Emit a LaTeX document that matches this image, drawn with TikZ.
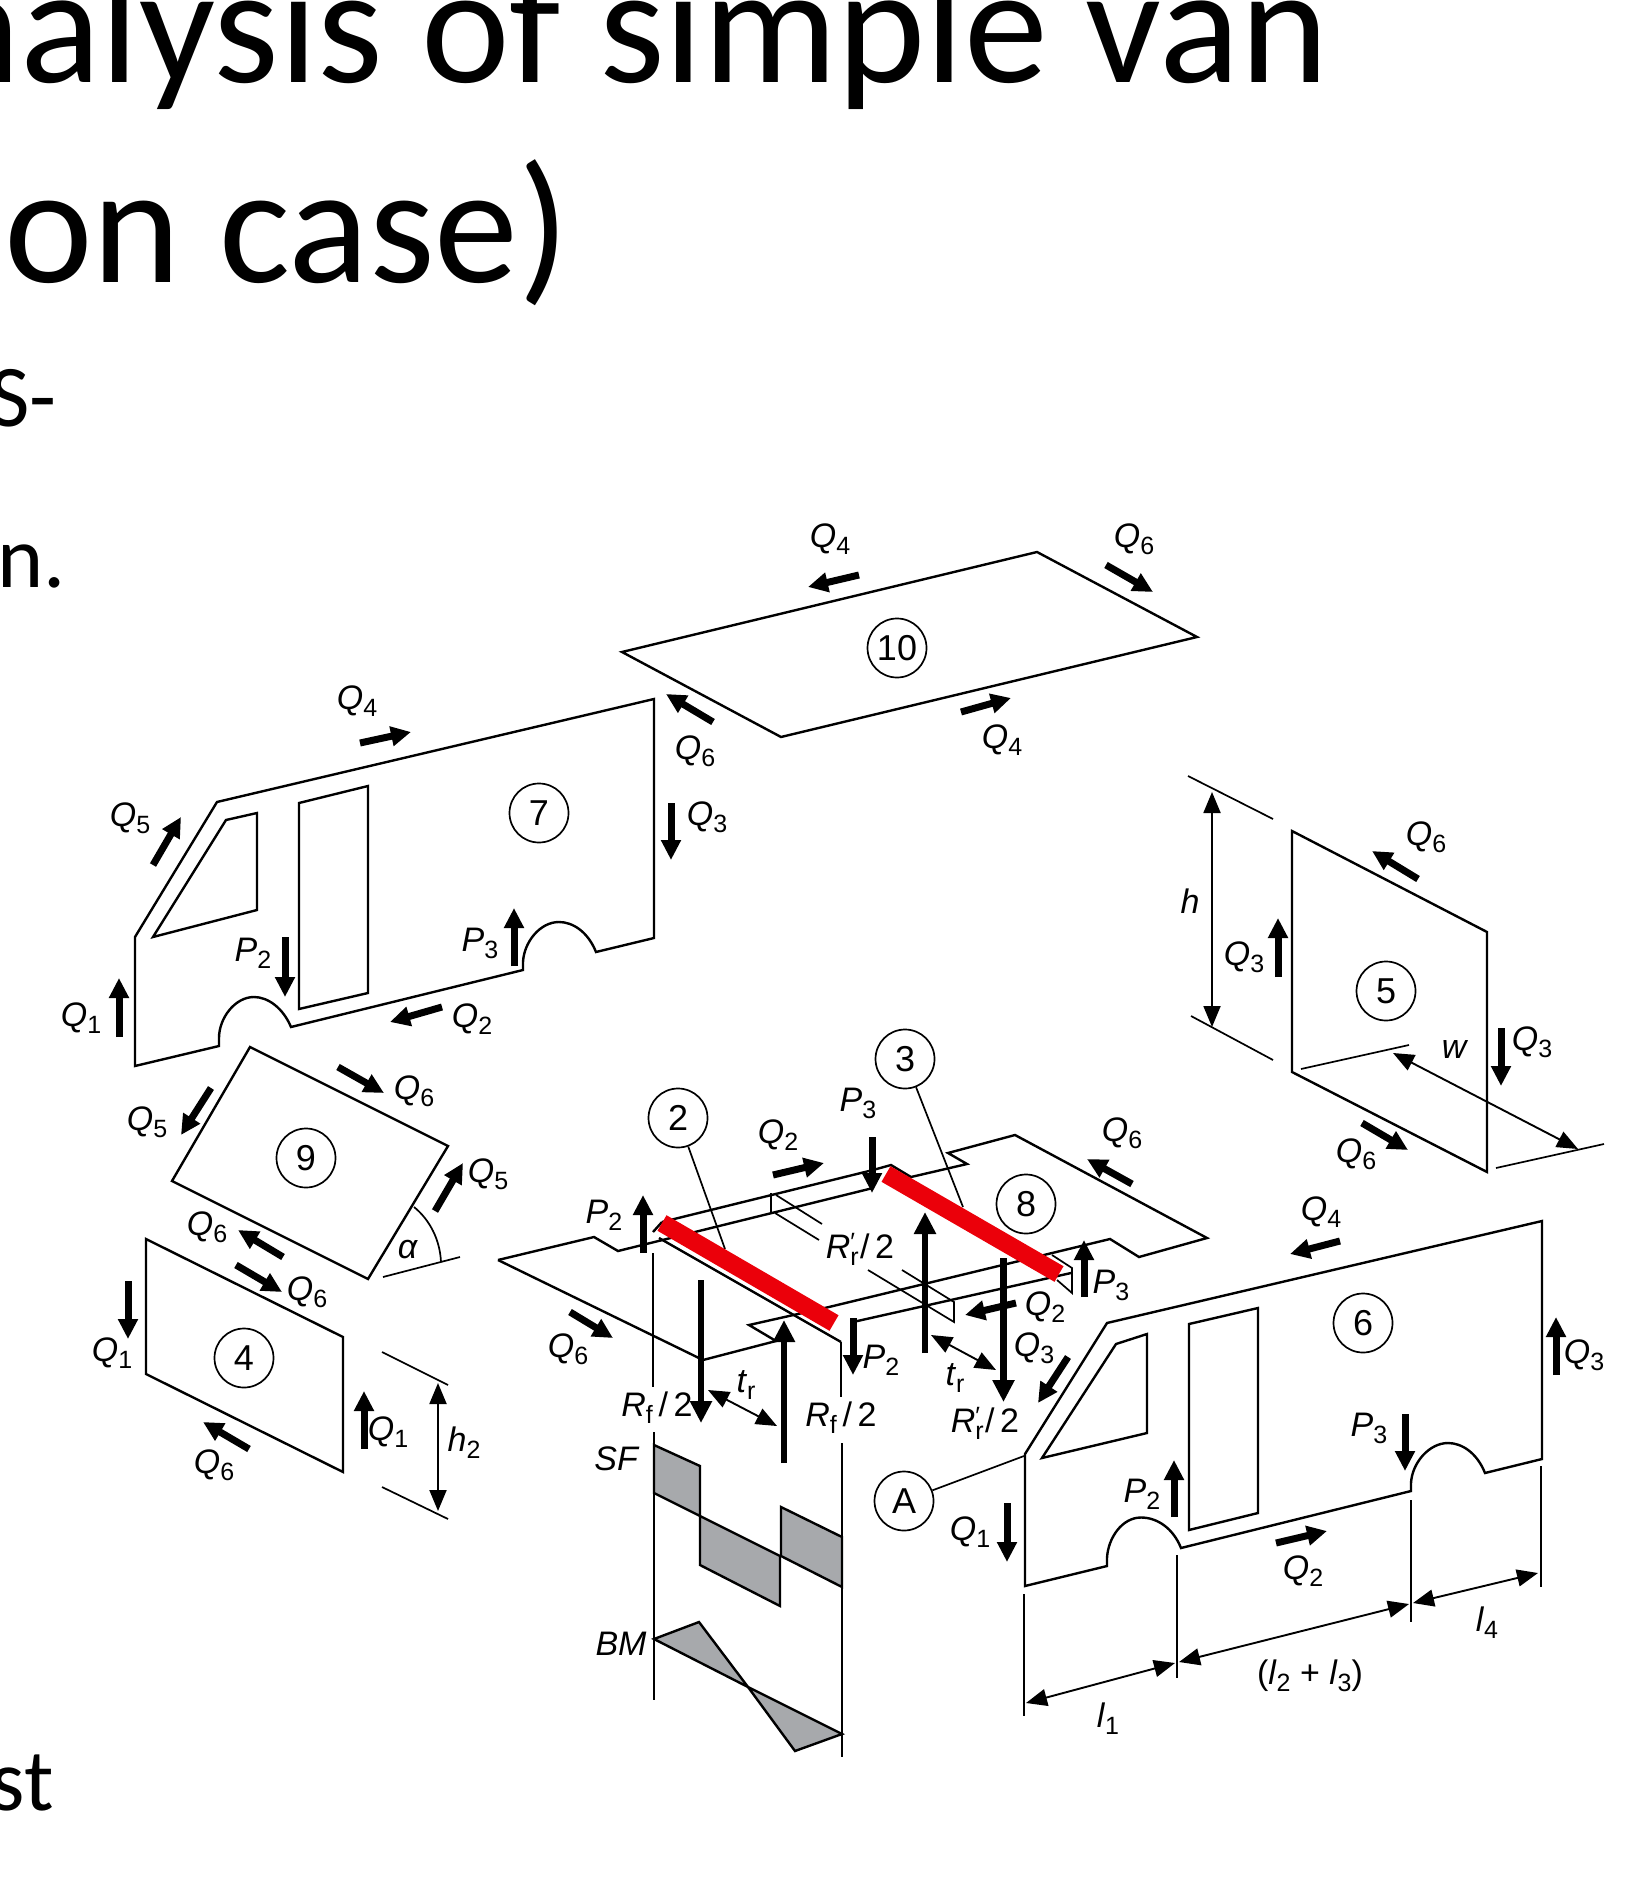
\documentclass[tikz,border=0pt]{standalone}
\usepackage{fontspec}
\setmainfont{Liberation Sans}
\newfontfamily\titlefont{Carlito}
\usetikzlibrary{arrows.meta}
\newcommand\subf[1]{{\fontsize{12.5}{13}\selectfont #1}}
\newcommand\QS[2]{\textit{#1}\raisebox{-3.5pt}{\subf{#2}}}
\newcommand\RF{\textit{R}\raisebox{-3.5pt}{\subf{f}}\,/\,2}
\newcommand\RP{\textit{R}\makebox[0pt][l]{\raisebox{-3.5pt}{\subf{r}}}\raisebox{4pt}{\subf{′}}\hspace{2.5pt}/\,2}
\tikzset{
  panel/.style={draw=black,line width=1.2pt,line join=miter},
  fine/.style={draw=black,line width=0.85pt},
  fa/.style={draw=black,line width=3.5pt,-{Triangle[length=10pt,width=9.5pt]}},
  fab/.style={draw=black,line width=3.4pt,-{Triangle[length=11pt,width=10.5pt]}},
  dimen/.style={draw=black,line width=0.95pt,{Triangle[length=10.5pt,width=8.5pt]}-{Triangle[length=10.5pt,width=8.5pt]}},
  lab/.style={inner sep=0pt,font=\fontsize{17}{20}\selectfont},
  num/.style={draw=black,circle,line width=0.85pt,minimum size=29.5pt,inner sep=0pt,font=\fontsize{18}{20}\selectfont},
  big/.style={inner sep=0pt,font=\titlefont\fontsize{84}{90}\selectfont},
  body/.style={inner sep=0pt,font=\titlefont\fontsize{44}{50}\selectfont,anchor=base east},
  redbar/.style={draw={rgb,255:red,235;green,0;blue,10},line width=9pt},
  shade/.style={fill={rgb,255:red,167;green,169;blue,172},draw=black,line width=1.2pt}
}
\begin{document}
\begin{tikzpicture}[x=0.5pt,y=-0.5pt]
\path[use as bounding box,fill=white] (0,0) rectangle (1625,1877);
\clip (0,0) rectangle (1625,1877);
% heading fragments
\node[big,anchor=base east] (t1) at (1329,83) {nalysis of simple van};
\node[big,anchor=base west] (t2) at (4,283) {on case)};
\node[body] (t3) at (57,427) {S-};
\node[body] (t4) at (66,587) {n.};
\node[body] (t5) at (54,1810) {st};

% panel 10
\draw[panel] (622,652) -- (1037,552) -- (1197,637) -- (781,737) -- cycle;
\node[num] (n10) at (897,648) {10};
\draw[fa] (859,575) -- (808,587);
\draw[fa] (1106,565) -- (1153,592);
\draw[fa] (713,722) -- (666,694);
\draw[fa] (961,712) -- (1011,698);
\node[lab] (a1) at (830,539) {\QS{Q}{4}};
\node[lab] (a2) at (1134,539) {\QS{Q}{6}};
\node[lab] (a3) at (695,751) {\QS{Q}{6}};
\node[lab] (a4) at (1002,740) {\QS{Q}{4}};

% panel 7
\draw[panel] (135,1066) -- (135,937) -- (217,802) -- (654,699) -- (654,938) -- (596,952)
  .. controls (588,932) and (573,922) .. (559,922) .. controls (540,922) and (524,942) .. (523,962) -- (523,970)
  -- (291,1027) .. controls (283,1008) and (268,997) .. (254,997) .. controls (235,997) and (219,1018) .. (219,1038) -- (219,1046) -- cycle;
\draw[panel] (153,937) -- (226,820) -- (257,813) -- (257,910) -- cycle;
\draw[panel] (299,803) -- (368,786) -- (368,993) -- (299,1009) -- cycle;
\node[num] (n7) at (539,813) {7};
\draw[fa] (360,743) -- (411,732);
\draw[fa] (153,865) -- (181,817);
\draw[fa] (671,803) -- (671,860);
\draw[fa] (119,1037) -- (119,978);
\draw[fa] (285,937) -- (285,997);
\draw[fa] (514,966) -- (514,908);
\draw[fa] (442,1007) -- (390,1022);
\node[lab] (b1) at (357,701) {\QS{Q}{4}};
\node[lab] (b2) at (130,818) {\QS{Q}{5}};
\node[lab] (b3) at (707,817) {\QS{Q}{3}};
\node[lab] (b4) at (81,1018) {\QS{Q}{1}};
\node[lab] (b5) at (253,953) {\QS{P}{2}};
\node[lab] (b6) at (480,943) {\QS{P}{3}};
\node[lab] (b7) at (472,1019) {\QS{Q}{2}};

% panel 9
\draw[panel] (250,1047) -- (448,1146) -- (368,1279) -- (172,1181) -- cycle;
\node[num] (n9) at (306,1158) {9};
\draw[fa] (338,1067) -- (384,1093);
\draw[fa] (211,1088) -- (181,1135);
\draw[fa] (435,1211) -- (463,1163);
\draw[fa] (283,1257) -- (238,1230);
\draw[fa] (236,1265) -- (282,1292);
\draw[fine] (414,1207) .. controls (430,1220) and (440,1240) .. (441,1262);
\draw[fine] (383,1277) -- (460,1257);
\node[lab] (c1) at (414,1091) {\QS{Q}{6}};
\node[lab] (c2) at (147,1122) {\QS{Q}{5}};
\node[lab] (c3) at (488,1174) {\QS{Q}{5}};
\node[lab] (c4) at (408,1250) {\textit{α}};
\node[lab] (c5) at (207,1227) {\QS{Q}{6}};
\node[lab] (c6) at (307,1292) {\QS{Q}{6}};

% panel 4
\draw[panel] (146,1239) -- (343,1337) -- (343,1472) -- (146,1374) -- cycle;
\node[num] (n4) at (244,1358) {4};
\draw[fa] (128,1281) -- (128,1339);
\draw[fa] (364,1449) -- (364,1391);
\draw[fa] (249,1449) -- (203,1422);
\draw[fine] (382,1352) -- (448,1385);
\draw[fine] (382,1487) -- (448,1519);
\draw[dimen] (438,1383) -- (438,1511);
\node[lab] (d1) at (112,1353) {\QS{Q}{1}};
\node[lab] (d2) at (388,1432) {\QS{Q}{1}};
\node[lab] (d3) at (214,1465) {\QS{Q}{6}};
\node[lab] (d4) at (464,1443) {\QS{\textit{h}}{2}};

% panel 5
\draw[panel] (1292,831) -- (1487,932) -- (1487,1172) -- (1292,1072) -- cycle;
\node[num] (n5) at (1386,991) {5};
\draw[fa] (1418,879) -- (1372,851);
\draw[fa] (1278,977) -- (1278,918);
\draw[fa] (1501,1028) -- (1501,1086);
\draw[fa] (1362,1123) -- (1408,1150);
\draw[fine] (1188,776) -- (1273,819);
\draw[fine] (1191,1016) -- (1273,1060);
\draw[dimen] (1212,792) -- (1212,1027);
\draw[fine] (1301,1069) -- (1409,1045);
\draw[dimen] (1393,1053) -- (1578,1149);
\draw[fine] (1496,1168) -- (1604,1144);
\node[lab] (e1) at (1426,837) {\QS{Q}{6}};
\node[lab] (e2) at (1190,901) {\textit{h}};
\node[lab] (e3) at (1244,957) {\QS{Q}{3}};
\node[lab] (e4) at (1532,1042) {\QS{Q}{3}};
\node[lab] (e5) at (1455,1050) {\textit{w}};
\node[lab] (e6) at (1356,1154) {\QS{Q}{6}};

% panel 8 (floor)
\draw[panel] (873,1170) -- (662,1222);
\draw[panel] (662,1222) -- (653,1232);
\draw[panel] (498,1260) -- (594,1237) -- (618,1251) -- (873,1188);
\draw[panel] (873,1170) -- (891,1165) -- (911,1177) -- (967,1164) -- (948,1153) -- (1015,1135)
  -- (1207,1238) -- (1139,1257) -- (1110,1239) -- (829,1307) -- (749,1325) -- (776,1341) -- (703,1360) -- (498,1260);
\draw[panel] (853,1322) -- (1071,1273);
\draw[panel] (659,1238) -- (841,1342);
\draw[fine] (771,1193) -- (771,1212);
\draw[fine] (776,1195) -- (822,1224);
\draw[fine] (775,1213) -- (819,1240);
\draw[fine] (868,1270) -- (954,1322) -- (954,1302) -- (902,1270);
\draw[fine] (1052,1255) -- (1072,1268) -- (1072,1293) -- (1057,1280);
\draw[fine] (841,1342) -- (841,1397);
\draw[fine] (842,1443) -- (842,1757);
\draw[fine] (653,1253) -- (653,1387);
\draw[fine] (654,1432) -- (654,1700);

% shear force and bending moment
\filldraw[shade] (654,1445) -- (700,1466) -- (700,1516) -- (654,1493) -- cycle;
\filldraw[shade] (700,1516) -- (780,1556) -- (780,1606) -- (700,1565) -- cycle;
\filldraw[shade] (781,1507) -- (842,1537) -- (842,1587) -- (781,1556) -- cycle;
\filldraw[shade] (654,1639) -- (699,1622) -- (748,1687) -- cycle;
\filldraw[shade] (748,1687) -- (842,1734) -- (795,1751) -- cycle;
\node[lab] (f1) at (617,1459) {\textit{SF}};
\node[lab] (f2) at (621,1644) {\textit{BM}};

% forces on the floor
\node[num] (n2) at (678,1118) {2};
\node[num] (n3) at (905,1059) {3};
\node[num] (n8) at (1026,1204) {8};
\coordinate (c2end) at (725,1249);
\coordinate (c3end) at (963,1207);
\draw[fine] (n2) -- (c2end);
\draw[fine] (n3) -- (c3end);
\draw[fa] (872,1137) -- (872,1193);
\draw[fa] (773,1175) -- (824,1163);
\draw[fa] (1132,1184) -- (1087,1159);
\draw[fa] (643,1253) -- (643,1195);
\draw[fa] (570,1312) -- (613,1338);
\draw[fab] (701,1280) -- (701,1423);
\draw[fab] (784,1463) -- (784,1320);
\draw[fa] (853,1318) -- (853,1375);
\draw[fab] (925,1353) -- (925,1212);
\draw[fab] (1003.5,1258) -- (1003.5,1402);
\draw[fa] (1016,1303) -- (965,1315);
\draw[fa] (1068,1357) -- (1038,1403);
\draw[fa] (1084,1297) -- (1084,1240);
\draw[dimen] (708,1390) -- (777,1426);
\draw[dimen] (931,1335) -- (996,1370);
\draw[redbar] (662,1223) -- (834,1323);
\draw[redbar] (886,1174) -- (1059,1274);
\node[lab] (g1) at (858,1103) {\QS{P}{3}};
\node[lab] (g2) at (778,1135) {\QS{Q}{2}};
\node[lab] (g3) at (1122,1133) {\QS{Q}{6}};
\node[lab] (g4) at (604,1215) {\QS{P}{2}};
\node[lab] (g5) at (568,1349) {\QS{Q}{6}};
\node[lab] (g6) at (657,1408) {\RF};
\node[lab] (g7) at (841,1418) {\RF};
\node[lab] (g8) at (746,1385) {\QS{\textit{t}}{r}};
\node[lab] (g9) at (881,1360) {\QS{P}{2}};
\node[lab] (g10) at (955,1378) {\QS{\textit{t}}{r}};
\node[lab] (g11) at (860,1249) {\RP};
\node[lab] (g12) at (985,1423) {\RP};
\node[lab] (g13) at (1045,1307) {\QS{Q}{2}};
\node[lab] (g14) at (1034,1348) {\QS{Q}{3}};
\node[lab] (g15) at (1111,1285) {\QS{P}{3}};

% panel 6
\draw[panel] (1025,1586) -- (1025,1454) -- (1107,1323) -- (1542,1221) -- (1542,1459) -- (1485,1473)
  .. controls (1477,1453) and (1462,1443) .. (1448,1443) .. controls (1429,1443) and (1412,1463) .. (1411,1483) -- (1411,1491)
  -- (1181,1548) .. controls (1173,1528) and (1157,1517.5) .. (1141,1517.5) .. controls (1122,1517.5) and (1108,1538) .. (1107,1558) -- (1107,1566) -- cycle;
\draw[panel] (1042,1458) -- (1116,1344) -- (1147,1334) -- (1147,1433) -- cycle;
\draw[panel] (1189,1324) -- (1258,1308) -- (1258,1513) -- (1189,1530) -- cycle;
\node[num] (n6) at (1363,1323) {6};
\node[num] (nA) at (904,1501) {A};
\coordinate (Aend) at (1024,1456);
\draw[fine] (nA) -- (Aend);
\draw[fa] (1340,1241) -- (1290,1254);
\draw[fa] (1556,1375) -- (1556,1317);
\draw[fa] (1405,1414) -- (1405,1471);
\draw[fa] (1174,1517) -- (1174,1460);
\draw[fa] (1276,1543) -- (1327,1531);
\draw[fa] (1007,1503) -- (1007,1562);
\draw[fine] (1024,1594) -- (1024,1716);
\draw[fine] (1177,1555) -- (1177,1678);
\draw[fine] (1411,1500) -- (1411,1622);
\draw[fine] (1541,1466) -- (1541,1587);
\draw[dimen] (1026,1703) -- (1175,1663);
\draw[dimen] (1179,1662) -- (1409,1604);
\draw[dimen] (1413,1603) -- (1538,1573);
\node[lab] (h1) at (1321,1212) {\QS{Q}{4}};
\node[lab] (h2) at (1584,1355) {\QS{Q}{3}};
\node[lab] (h3) at (1369,1428) {\QS{P}{3}};
\node[lab] (h4) at (1142,1494) {\QS{P}{2}};
\node[lab] (h5) at (1303,1571) {\QS{Q}{2}};
\node[lab] (h6) at (970,1532) {\QS{Q}{1}};
\node[lab] (h7) at (1108,1719) {\QS{\textit{l}}{1}};
\node[lab] (h8) at (1310,1676) {(\QS{\textit{l}}{2} + \QS{\textit{l}}{3})};
\node[lab] (h9) at (1487,1623) {\QS{\textit{l}}{4}};
\end{tikzpicture}
\end{document}
